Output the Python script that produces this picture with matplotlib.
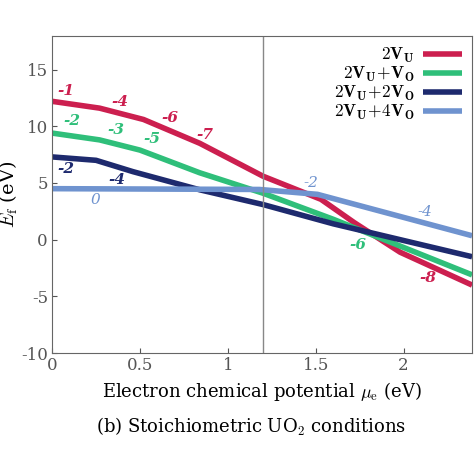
import matplotlib
matplotlib.use("Agg")
import matplotlib.pyplot as plt

plt.rcParams['font.family'] = 'DejaVu Serif'
plt.rcParams['mathtext.fontset'] = 'cm'
plt.rcParams['axes.unicode_minus'] = False

red_x = [0, 0.27, 0.52, 0.84, 1.2, 1.53, 1.72, 1.98, 2.39]
red_y = [12.2, 11.6, 10.6, 8.5, 5.6, 3.56, 1.5, -1.1, -4.0]
green_x = [0, 0.27, 0.5, 0.84, 1.2, 1.6, 2.39]
green_y = [9.4, 8.8, 7.9, 5.9, 4.1, 1.8, -3.1]
navy_x = [0, 0.25, 0.46, 0.84, 1.2, 1.6, 2.39]
navy_y = [7.3, 7.0, 6.0, 4.4, 3.1, 1.4, -1.5]
light_x = [0, 1.18, 1.51, 2.39]
light_y = [4.5, 4.43, 4.0, 0.35]

names = [r'$\mathbf{2V_U}$', r'$\mathbf{2V_U\!+\!V_O}$', r'$\mathbf{2V_U\!+\!2V_O}$', r'$\mathbf{2V_U\!+\!4V_O}$']
colors = ['#cc1f4f', '#2fbf7a', '#1e2a6e', '#6f93cf']

labels = {
    0: [('-1', 0.08, 13.1), ('-4', 0.385, 12.1), ('-6', 0.67, 10.7), ('-7', 0.87, 9.2), ('-8', 2.14, -3.4)],
    1: [('-2', 0.11, 10.5), ('-3', 0.36, 9.7), ('-5', 0.57, 8.9), ('-6', 1.74, -0.5)],
    2: [('-2', 0.08, 6.2), ('-4', 0.37, 5.3)],
    3: [('0', 0.245, 3.5), ('-2', 1.47, 5.0), ('-4', 2.12, 2.4)],
}

fig = plt.figure(figsize=(4.74, 4.74), dpi=100)
ax = fig.add_axes([0.11, 0.255, 0.886, 0.67])
for (x, y), n, c in zip([(red_x, red_y), (green_x, green_y), (navy_x, navy_y), (light_x, light_y)], names, colors):
    ax.plot(x, y, color=c, lw=4, label=n, solid_capstyle='butt')
for i, lst in labels.items():
    for t, x, y in lst:
        ax.text(x, y, t, color=colors[i], fontsize=11, ha='center', va='center',
                fontstyle='italic', fontweight='bold' if i < 3 else 'normal')
ax.axvline(1.2, color='#888888', lw=1)
ax.set_xlim(0, 2.39)
ax.set_ylim(-10, 18)
ax.set_xticks([0, 0.5, 1, 1.5, 2])
ax.set_xticklabels(['0', '0.5', '1', '1.5', '2'])
ax.set_yticks([-10, -5, 0, 5, 10, 15])
ax.tick_params(labelsize=12, colors='#555555', labelcolor='#555555', direction='in', pad=3)
ax.set_xlabel(r'Electron chemical potential $\mu_{\rm e}$ (eV)', fontsize=13)
ax.set_ylabel(r'$E_{\rm f}$ (eV)', fontsize=14, labelpad=1)
for s in ax.spines.values():
    s.set_color('#666666')
ax.legend(loc='upper right', markerfirst=False, frameon=False, fontsize=12.5,
          handlelength=2.2, labelspacing=0.0, borderaxespad=0.2, handletextpad=0.5)
fig.text(0.53, 0.10, r'(b) Stoichiometric UO$_2$ conditions', ha='center', va='center', fontsize=13)
fig.savefig('out.png', dpi=100)
